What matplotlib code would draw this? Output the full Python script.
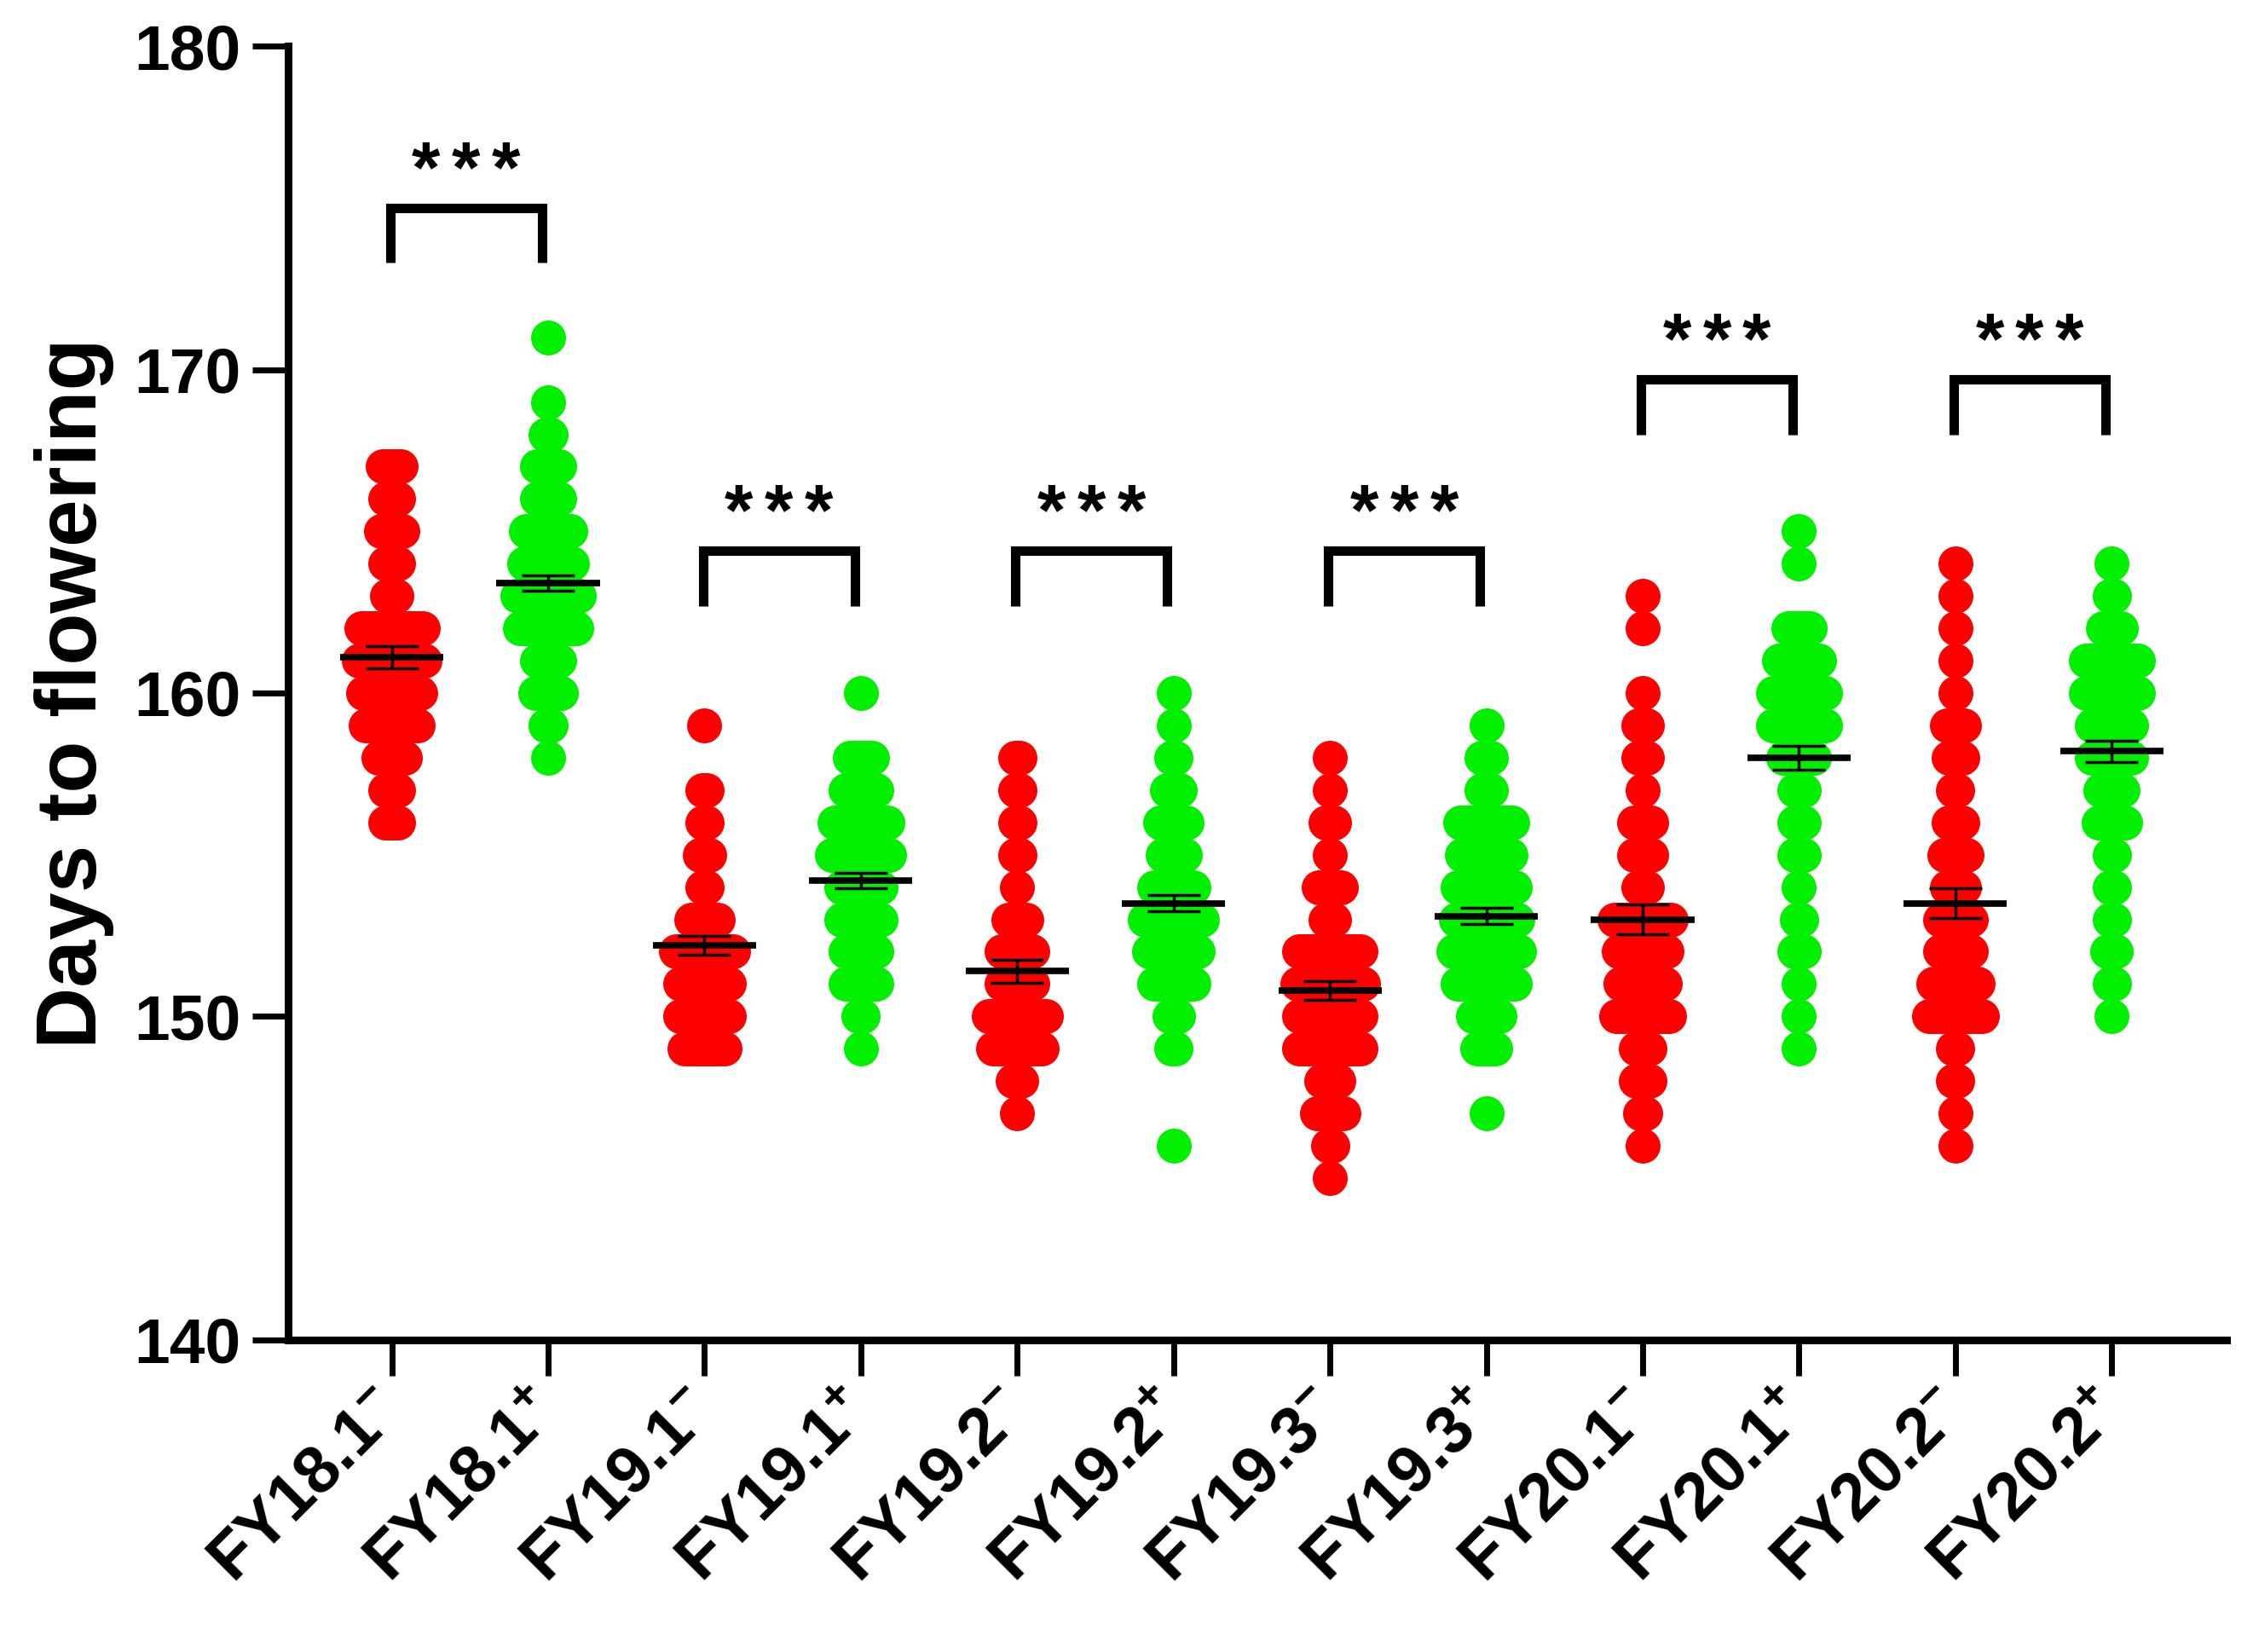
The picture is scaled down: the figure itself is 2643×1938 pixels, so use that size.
import numpy as np
import matplotlib.pyplot as plt

plt.rcParams['font.family'] = ['Liberation Sans', 'DejaVu Sans']
plt.rcParams['font.weight'] = 'bold'
plt.rcParams['mathtext.fontset'] = 'custom'
plt.rcParams['mathtext.rm'] = 'Liberation Sans:bold'
plt.rcParams['mathtext.bf'] = 'Liberation Sans:bold'
plt.rcParams['mathtext.default'] = 'bf'

# groups: each line without (-) and with (+) the allele
lines = ['FY18.1', 'FY19.1', 'FY19.2', 'FY19.3', 'FY20.1', 'FY20.2']
tick_labels = []
for name in lines:
    tick_labels += [name + r'$^{-}$', name + r'$^{+}$']

# number of plants flowering on each day, counted from the lowest day of each group
lows = [156, 158, 149, 149, 147, 146, 145, 147, 146, 149, 146, 150]
counts = [
    [4, 4, 7, 13, 14, 16, 15, 3, 4, 6, 4, 5],                    # FY18.1-
    [1, 2, 7, 6, 14, 15, 12, 11, 6, 6, 2, 1, 0, 1],              # FY18.1+
    [10, 12, 12, 14, 7, 2, 3, 2, 2, 0, 1],                       # FY19.1-
    [1, 2, 8, 8, 10, 10, 14, 13, 8, 6, 0, 1],                    # FY19.1+
    [1, 3, 12, 14, 8, 8, 5, 1, 2, 2, 2, 2],                      # FY19.2-
    [1, 0, 0, 2, 3, 10, 12, 14, 10, 6, 7, 4, 2, 1, 1],           # FY19.2+
    [1, 2, 7, 5, 15, 15, 16, 15, 3, 6, 1, 3, 1, 1],              # FY19.3-
    [1, 0, 5, 7, 14, 16, 15, 14, 12, 13, 3, 3, 1],               # FY19.3+
    [1, 2, 4, 4, 13, 11, 12, 14, 3, 5, 5, 1, 3, 3, 1, 0, 1, 1],  # FY20.1-
    [1, 1, 1, 3, 2, 1, 3, 3, 3, 8, 13, 13, 10, 6, 0, 1, 1],      # FY20.1+
    [1, 1, 2, 2, 13, 11, 8, 8, 5, 6, 4, 2, 4, 5, 1, 1, 1, 1, 1], # FY20.2-
    [1, 2, 3, 2, 2, 2, 7, 6, 10, 10, 13, 13, 5, 2, 1],           # FY20.2+
]
means = [161.1, 163.4, 152.2, 154.2, 151.4, 153.5, 150.8, 153.1, 153.0, 158.0, 153.5, 158.2]
sems = [0.34, 0.24, 0.28, 0.23, 0.36, 0.26, 0.29, 0.25, 0.47, 0.37, 0.47, 0.33]

# significance brackets
sig_pairs = [(0, 1), (2, 3), (4, 5), (6, 7), (8, 9), (10, 11)]
sig_top = [175.0, 164.4, 164.4, 164.4, 169.7, 169.7]
sig_text = ['***'] * 6

red = '#FF0000'
green = '#00F000'

fig = plt.figure(figsize=(26.43, 19.38), dpi=100)
ax = fig.add_axes([0.128, 0.189, 0.8604, 0.783])

step = 0.028

for i in range(12):
    xs, ys = [], []
    for k, n in enumerate(counts[i]):
        off = (np.arange(n) - (n - 1) / 2) * step
        xs += list(i + off)
        ys += [lows[i] + k] * n
    col = red if i % 2 == 0 else green
    ax.scatter(xs, ys, s=870, marker='o', color=col, linewidths=0, zorder=2)

    ax.hlines(means[i], i - 0.33, i + 0.33, color='black', lw=5.5, zorder=4)
    ax.errorbar(i, means[i], yerr=sems[i], fmt='none', ecolor='black',
                elinewidth=2.5, capsize=22, capthick=2.5, zorder=4)

for (a, b), top, txt in zip(sig_pairs, sig_top, sig_text):
    a, b = a - 0.01, b - 0.04
    ax.plot([a, a, b, b], [top - 1.7, top, top, top - 1.7], color='black',
            lw=8, solid_joinstyle='miter', solid_capstyle='butt')
    mid = (a + b) / 2
    for j, ch in enumerate(txt):
        ax.text(mid + (j - 1) * 0.255, top + 0.5, ch, ha='center', va='baseline',
                fontsize=62, fontweight='bold')

ax.set_xlim(-0.661, 11.736)
ax.set_ylim(140, 180)
ax.set_yticks([140, 150, 160, 170, 180])
ax.set_xticks(range(12))
ax.set_xticklabels(tick_labels, rotation=45, ha='right', va='center',
                   rotation_mode='anchor', fontsize=56, fontweight='bold')
ax.tick_params(axis='y', labelsize=54, length=30, width=5, pad=10)
ax.tick_params(axis='x', length=30, width=5, pad=22)

ax.spines['top'].set_visible(False)
ax.spines['right'].set_visible(False)
ax.spines['left'].set_linewidth(6.5)
ax.spines['bottom'].set_linewidth(6.5)

ax.set_ylabel('Days to flowering', fontsize=72, fontweight='bold')
ax.yaxis.set_label_coords(-0.090, 0.5)

fig.savefig('out.png', dpi=100)
